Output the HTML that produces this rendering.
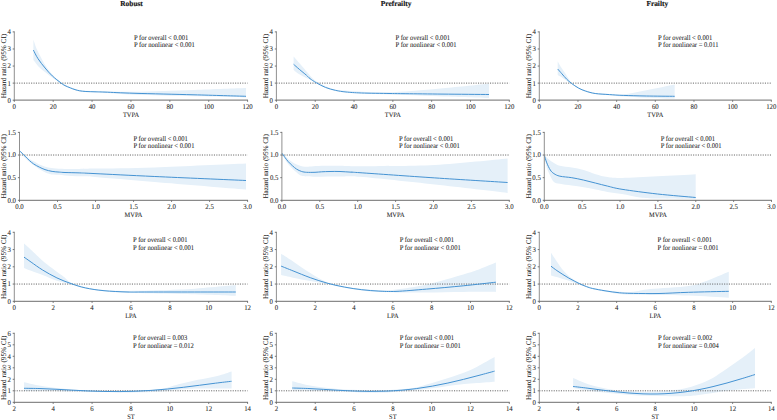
<!DOCTYPE html>
<html><head><meta charset="utf-8"><style>html,body{margin:0;padding:0;background:#fff;width:777px;height:420px;overflow:hidden}svg{display:block}</style></head>
<body><svg width="777" height="420" viewBox="0 0 777 420" font-family='"Liberation Serif", serif' text-rendering="geometricPrecision"><path d="M33.40,39.40 C33.93,40.95 35.35,45.72 36.60,48.70 C37.85,51.68 39.48,54.58 40.90,57.30 C42.32,60.02 43.20,62.12 45.10,65.00 C47.00,67.88 49.67,71.73 52.30,74.60 C54.93,77.47 57.88,80.10 60.90,82.20 C63.92,84.30 67.27,85.88 70.40,87.20 C73.53,88.52 77.00,89.50 79.70,90.10 C82.40,90.70 82.38,90.60 86.60,90.80 C90.82,91.00 96.93,91.13 105.00,91.30 C113.07,91.47 120.17,92.02 135.00,91.80 C149.83,91.58 175.50,90.62 194.00,90.00 C212.50,89.38 237.33,88.42 246.00,88.10 L246.00,97.50 C237.33,97.30 212.50,96.75 194.00,96.30 C175.50,95.85 149.83,95.38 135.00,94.80 C120.17,94.22 113.07,93.25 105.00,92.80 C96.93,92.35 90.82,92.32 86.60,92.10 C82.38,91.88 82.40,92.08 79.70,91.50 C77.00,90.92 73.53,89.90 70.40,88.60 C67.27,87.30 63.92,85.55 60.90,83.70 C57.88,81.85 55.17,79.63 52.30,77.50 C49.43,75.37 46.08,72.83 43.70,70.90 C41.32,68.97 39.72,67.70 38.00,65.90 C36.28,64.10 34.17,61.07 33.40,60.10 Z" fill="#e5f0f9" stroke="none"/><line x1="14.30" y1="83.12" x2="247.60" y2="83.12" stroke="#555" stroke-width="0.9" stroke-dasharray="1.1,1.3"/><path d="M33.40,50.10 C34.17,51.53 36.05,55.72 38.00,58.70 C39.95,61.68 42.72,65.13 45.10,68.00 C47.48,70.87 49.67,73.42 52.30,75.90 C54.93,78.38 58.78,81.28 60.90,82.90 C63.02,84.52 63.42,84.77 65.00,85.60 C66.58,86.43 68.73,87.23 70.40,87.90 C72.07,88.57 73.45,89.12 75.00,89.60 C76.55,90.08 77.88,90.48 79.70,90.80 C81.52,91.12 83.35,91.33 85.90,91.50 C88.45,91.67 91.82,91.70 95.00,91.80 C98.18,91.90 98.33,91.85 105.00,92.10 C111.67,92.35 120.17,92.85 135.00,93.30 C149.83,93.75 175.50,94.30 194.00,94.80 C212.50,95.30 237.33,96.05 246.00,96.30" fill="none" stroke="#4593d3" stroke-width="1.0"/><line x1="14.30" y1="31.40" x2="14.30" y2="100.70" stroke="#8a8a8a" stroke-width="0.95"/><line x1="13.90" y1="100.20" x2="248.00" y2="100.20" stroke="#8a8a8a" stroke-width="1.3"/><line x1="12.70" y1="100.20" x2="14.30" y2="100.20" stroke="#666" stroke-width="0.9"/><text transform="translate(10.80,102.60) scale(0.93,1)" text-anchor="end" font-size="7.3" font-weight="normal" fill="#222" stroke="#222" stroke-width="0.06">0</text><line x1="12.70" y1="83.12" x2="14.30" y2="83.12" stroke="#666" stroke-width="0.9"/><text transform="translate(10.80,85.53) scale(0.93,1)" text-anchor="end" font-size="7.3" font-weight="normal" fill="#222" stroke="#222" stroke-width="0.06">1</text><line x1="12.70" y1="66.05" x2="14.30" y2="66.05" stroke="#666" stroke-width="0.9"/><text transform="translate(10.80,68.45) scale(0.93,1)" text-anchor="end" font-size="7.3" font-weight="normal" fill="#222" stroke="#222" stroke-width="0.06">2</text><line x1="12.70" y1="48.97" x2="14.30" y2="48.97" stroke="#666" stroke-width="0.9"/><text transform="translate(10.80,51.37) scale(0.93,1)" text-anchor="end" font-size="7.3" font-weight="normal" fill="#222" stroke="#222" stroke-width="0.06">3</text><line x1="12.70" y1="31.90" x2="14.30" y2="31.90" stroke="#666" stroke-width="0.9"/><text transform="translate(10.80,34.30) scale(0.93,1)" text-anchor="end" font-size="7.3" font-weight="normal" fill="#222" stroke="#222" stroke-width="0.06">4</text><line x1="14.30" y1="100.20" x2="14.30" y2="101.80" stroke="#666" stroke-width="0.9"/><text transform="translate(14.30,109.30) scale(0.93,1)" text-anchor="middle" font-size="7.3" font-weight="normal" fill="#222" stroke="#222" stroke-width="0.06">0</text><line x1="53.18" y1="100.20" x2="53.18" y2="101.80" stroke="#666" stroke-width="0.9"/><text transform="translate(53.18,109.30) scale(0.93,1)" text-anchor="middle" font-size="7.3" font-weight="normal" fill="#222" stroke="#222" stroke-width="0.06">20</text><line x1="92.07" y1="100.20" x2="92.07" y2="101.80" stroke="#666" stroke-width="0.9"/><text transform="translate(92.07,109.30) scale(0.93,1)" text-anchor="middle" font-size="7.3" font-weight="normal" fill="#222" stroke="#222" stroke-width="0.06">40</text><line x1="130.95" y1="100.20" x2="130.95" y2="101.80" stroke="#666" stroke-width="0.9"/><text transform="translate(130.95,109.30) scale(0.93,1)" text-anchor="middle" font-size="7.3" font-weight="normal" fill="#222" stroke="#222" stroke-width="0.06">60</text><line x1="169.83" y1="100.20" x2="169.83" y2="101.80" stroke="#666" stroke-width="0.9"/><text transform="translate(169.83,109.30) scale(0.93,1)" text-anchor="middle" font-size="7.3" font-weight="normal" fill="#222" stroke="#222" stroke-width="0.06">80</text><line x1="208.72" y1="100.20" x2="208.72" y2="101.80" stroke="#666" stroke-width="0.9"/><text transform="translate(208.72,109.30) scale(0.93,1)" text-anchor="middle" font-size="7.3" font-weight="normal" fill="#222" stroke="#222" stroke-width="0.06">100</text><line x1="247.60" y1="100.20" x2="247.60" y2="101.80" stroke="#666" stroke-width="0.9"/><text transform="translate(247.60,109.30) scale(0.93,1)" text-anchor="middle" font-size="7.3" font-weight="normal" fill="#222" stroke="#222" stroke-width="0.06">120</text><text transform="translate(130.95,117.00) scale(0.94,1)" text-anchor="middle" font-size="6.8" font-weight="normal" fill="#222" stroke="#222" stroke-width="0.06">TVPA</text><text transform="translate(5.70,66.05) scale(1.0,1) rotate(-90)" text-anchor="middle" font-size="7.2" font-weight="normal" fill="#222" stroke="#222" stroke-width="0.06">Hazard ratio (95% CI)</text><text transform="translate(133.90,39.60) scale(0.9,1)" text-anchor="start" font-size="7.3" font-weight="normal" fill="#222" stroke="#222" stroke-width="0.06">P for overall &lt; 0.001</text><text transform="translate(133.90,47.40) scale(0.9,1)" text-anchor="start" font-size="7.3" font-weight="normal" fill="#222" stroke="#222" stroke-width="0.06">P for nonlinear &lt; 0.001</text><path d="M293.60,56.40 C294.32,57.23 296.23,59.48 297.90,61.40 C299.57,63.32 300.98,64.93 303.60,67.90 C306.22,70.87 310.98,76.68 313.60,79.20 C316.22,81.72 316.92,81.65 319.30,83.00 C321.68,84.35 325.28,86.23 327.90,87.30 C330.52,88.37 332.15,88.87 335.00,89.40 C337.85,89.93 338.33,90.02 345.00,90.50 C351.67,90.98 364.85,92.13 375.00,92.30 C385.15,92.47 394.57,92.17 405.90,91.50 C417.23,90.83 429.15,89.58 443.00,88.30 C456.85,87.02 481.33,84.55 489.00,83.80 L489.00,98.00 C481.33,97.75 456.85,97.00 443.00,96.50 C429.15,96.00 417.23,95.42 405.90,95.00 C394.57,94.58 385.15,94.55 375.00,94.00 C364.85,93.45 351.67,92.27 345.00,91.70 C338.33,91.13 337.85,91.13 335.00,90.60 C332.15,90.07 330.52,89.55 327.90,88.50 C325.28,87.45 321.68,85.57 319.30,84.30 C316.92,83.03 315.75,81.97 313.60,80.90 C311.45,79.83 308.78,79.00 306.40,77.90 C304.02,76.80 301.43,75.62 299.30,74.30 C297.17,72.98 294.55,70.72 293.60,70.00 Z" fill="#e5f0f9" stroke="none"/><line x1="276.40" y1="83.12" x2="509.30" y2="83.12" stroke="#555" stroke-width="0.9" stroke-dasharray="1.1,1.3"/><path d="M293.60,64.30 C294.55,65.13 297.17,67.48 299.30,69.30 C301.43,71.12 304.62,73.65 306.40,75.20 C308.18,76.75 308.37,77.35 310.00,78.60 C311.63,79.85 313.63,81.23 316.20,82.70 C318.77,84.17 322.15,86.12 325.40,87.40 C328.65,88.68 332.27,89.63 335.70,90.40 C339.13,91.17 341.70,91.57 346.00,92.00 C350.30,92.43 354.17,92.75 361.50,93.00 C368.83,93.25 382.60,93.38 390.00,93.50 C397.40,93.62 397.07,93.60 405.90,93.70 C414.73,93.80 429.15,93.97 443.00,94.10 C456.85,94.23 481.33,94.43 489.00,94.50" fill="none" stroke="#4593d3" stroke-width="1.0"/><line x1="276.40" y1="31.40" x2="276.40" y2="100.70" stroke="#8a8a8a" stroke-width="0.95"/><line x1="276.00" y1="100.20" x2="509.70" y2="100.20" stroke="#8a8a8a" stroke-width="1.3"/><line x1="274.80" y1="100.20" x2="276.40" y2="100.20" stroke="#666" stroke-width="0.9"/><text transform="translate(272.90,102.60) scale(0.93,1)" text-anchor="end" font-size="7.3" font-weight="normal" fill="#222" stroke="#222" stroke-width="0.06">0</text><line x1="274.80" y1="83.12" x2="276.40" y2="83.12" stroke="#666" stroke-width="0.9"/><text transform="translate(272.90,85.53) scale(0.93,1)" text-anchor="end" font-size="7.3" font-weight="normal" fill="#222" stroke="#222" stroke-width="0.06">1</text><line x1="274.80" y1="66.05" x2="276.40" y2="66.05" stroke="#666" stroke-width="0.9"/><text transform="translate(272.90,68.45) scale(0.93,1)" text-anchor="end" font-size="7.3" font-weight="normal" fill="#222" stroke="#222" stroke-width="0.06">2</text><line x1="274.80" y1="48.97" x2="276.40" y2="48.97" stroke="#666" stroke-width="0.9"/><text transform="translate(272.90,51.37) scale(0.93,1)" text-anchor="end" font-size="7.3" font-weight="normal" fill="#222" stroke="#222" stroke-width="0.06">3</text><line x1="274.80" y1="31.90" x2="276.40" y2="31.90" stroke="#666" stroke-width="0.9"/><text transform="translate(272.90,34.30) scale(0.93,1)" text-anchor="end" font-size="7.3" font-weight="normal" fill="#222" stroke="#222" stroke-width="0.06">4</text><line x1="276.40" y1="100.20" x2="276.40" y2="101.80" stroke="#666" stroke-width="0.9"/><text transform="translate(276.40,109.30) scale(0.93,1)" text-anchor="middle" font-size="7.3" font-weight="normal" fill="#222" stroke="#222" stroke-width="0.06">0</text><line x1="315.22" y1="100.20" x2="315.22" y2="101.80" stroke="#666" stroke-width="0.9"/><text transform="translate(315.22,109.30) scale(0.93,1)" text-anchor="middle" font-size="7.3" font-weight="normal" fill="#222" stroke="#222" stroke-width="0.06">20</text><line x1="354.03" y1="100.20" x2="354.03" y2="101.80" stroke="#666" stroke-width="0.9"/><text transform="translate(354.03,109.30) scale(0.93,1)" text-anchor="middle" font-size="7.3" font-weight="normal" fill="#222" stroke="#222" stroke-width="0.06">40</text><line x1="392.85" y1="100.20" x2="392.85" y2="101.80" stroke="#666" stroke-width="0.9"/><text transform="translate(392.85,109.30) scale(0.93,1)" text-anchor="middle" font-size="7.3" font-weight="normal" fill="#222" stroke="#222" stroke-width="0.06">60</text><line x1="431.67" y1="100.20" x2="431.67" y2="101.80" stroke="#666" stroke-width="0.9"/><text transform="translate(431.67,109.30) scale(0.93,1)" text-anchor="middle" font-size="7.3" font-weight="normal" fill="#222" stroke="#222" stroke-width="0.06">80</text><line x1="470.48" y1="100.20" x2="470.48" y2="101.80" stroke="#666" stroke-width="0.9"/><text transform="translate(470.48,109.30) scale(0.93,1)" text-anchor="middle" font-size="7.3" font-weight="normal" fill="#222" stroke="#222" stroke-width="0.06">100</text><line x1="509.30" y1="100.20" x2="509.30" y2="101.80" stroke="#666" stroke-width="0.9"/><text transform="translate(509.30,109.30) scale(0.93,1)" text-anchor="middle" font-size="7.3" font-weight="normal" fill="#222" stroke="#222" stroke-width="0.06">120</text><text transform="translate(392.85,117.00) scale(0.94,1)" text-anchor="middle" font-size="6.8" font-weight="normal" fill="#222" stroke="#222" stroke-width="0.06">TVPA</text><text transform="translate(267.80,66.05) scale(1.0,1) rotate(-90)" text-anchor="middle" font-size="7.2" font-weight="normal" fill="#222" stroke="#222" stroke-width="0.06">Hazard ratio (95% CI)</text><text transform="translate(395.60,39.60) scale(0.9,1)" text-anchor="start" font-size="7.3" font-weight="normal" fill="#222" stroke="#222" stroke-width="0.06">P for overall &lt; 0.001</text><text transform="translate(395.60,47.40) scale(0.9,1)" text-anchor="start" font-size="7.3" font-weight="normal" fill="#222" stroke="#222" stroke-width="0.06">P for nonlinear &lt; 0.001</text><path d="M557.70,61.30 C558.20,62.20 559.40,64.62 560.70,66.70 C562.00,68.78 563.72,71.18 565.50,73.80 C567.28,76.42 569.22,80.12 571.40,82.40 C573.58,84.68 576.22,86.15 578.60,87.50 C580.98,88.85 582.93,89.60 585.70,90.50 C588.47,91.40 591.23,92.33 595.20,92.90 C599.17,93.47 604.83,93.63 609.50,93.90 C614.17,94.17 617.07,95.12 623.20,94.50 C629.33,93.88 637.72,91.88 646.30,90.20 C654.88,88.52 669.97,85.37 674.70,84.40 L674.70,98.60 C669.97,98.45 654.88,98.05 646.30,97.70 C637.72,97.35 629.33,96.90 623.20,96.50 C617.07,96.10 614.17,95.70 609.50,95.30 C604.83,94.90 599.17,94.70 595.20,94.10 C591.23,93.50 588.47,92.60 585.70,91.70 C582.93,90.80 580.72,89.85 578.60,88.70 C576.48,87.55 574.78,86.00 573.00,84.80 C571.22,83.60 569.75,82.73 567.90,81.50 C566.05,80.27 563.60,78.48 561.90,77.40 C560.20,76.32 558.40,75.40 557.70,75.00 Z" fill="#e5f0f9" stroke="none"/><line x1="539.30" y1="83.12" x2="771.30" y2="83.12" stroke="#555" stroke-width="0.9" stroke-dasharray="1.1,1.3"/><path d="M557.70,69.00 C558.40,69.80 560.40,72.10 561.90,73.80 C563.40,75.50 565.12,77.62 566.70,79.20 C568.28,80.78 569.42,81.82 571.40,83.30 C573.38,84.78 576.22,86.80 578.60,88.10 C580.98,89.40 582.93,90.20 585.70,91.10 C588.47,92.00 591.23,92.92 595.20,93.50 C599.17,94.08 604.83,94.28 609.50,94.60 C614.17,94.92 617.07,95.17 623.20,95.40 C629.33,95.63 637.72,95.85 646.30,96.00 C654.88,96.15 669.97,96.25 674.70,96.30" fill="none" stroke="#4593d3" stroke-width="1.0"/><line x1="539.30" y1="31.40" x2="539.30" y2="100.70" stroke="#8a8a8a" stroke-width="0.95"/><line x1="538.90" y1="100.20" x2="771.70" y2="100.20" stroke="#8a8a8a" stroke-width="1.3"/><line x1="537.70" y1="100.20" x2="539.30" y2="100.20" stroke="#666" stroke-width="0.9"/><text transform="translate(535.80,102.60) scale(0.93,1)" text-anchor="end" font-size="7.3" font-weight="normal" fill="#222" stroke="#222" stroke-width="0.06">0</text><line x1="537.70" y1="83.12" x2="539.30" y2="83.12" stroke="#666" stroke-width="0.9"/><text transform="translate(535.80,85.53) scale(0.93,1)" text-anchor="end" font-size="7.3" font-weight="normal" fill="#222" stroke="#222" stroke-width="0.06">1</text><line x1="537.70" y1="66.05" x2="539.30" y2="66.05" stroke="#666" stroke-width="0.9"/><text transform="translate(535.80,68.45) scale(0.93,1)" text-anchor="end" font-size="7.3" font-weight="normal" fill="#222" stroke="#222" stroke-width="0.06">2</text><line x1="537.70" y1="48.97" x2="539.30" y2="48.97" stroke="#666" stroke-width="0.9"/><text transform="translate(535.80,51.37) scale(0.93,1)" text-anchor="end" font-size="7.3" font-weight="normal" fill="#222" stroke="#222" stroke-width="0.06">3</text><line x1="537.70" y1="31.90" x2="539.30" y2="31.90" stroke="#666" stroke-width="0.9"/><text transform="translate(535.80,34.30) scale(0.93,1)" text-anchor="end" font-size="7.3" font-weight="normal" fill="#222" stroke="#222" stroke-width="0.06">4</text><line x1="539.30" y1="100.20" x2="539.30" y2="101.80" stroke="#666" stroke-width="0.9"/><text transform="translate(539.30,109.30) scale(0.93,1)" text-anchor="middle" font-size="7.3" font-weight="normal" fill="#222" stroke="#222" stroke-width="0.06">0</text><line x1="577.97" y1="100.20" x2="577.97" y2="101.80" stroke="#666" stroke-width="0.9"/><text transform="translate(577.97,109.30) scale(0.93,1)" text-anchor="middle" font-size="7.3" font-weight="normal" fill="#222" stroke="#222" stroke-width="0.06">20</text><line x1="616.63" y1="100.20" x2="616.63" y2="101.80" stroke="#666" stroke-width="0.9"/><text transform="translate(616.63,109.30) scale(0.93,1)" text-anchor="middle" font-size="7.3" font-weight="normal" fill="#222" stroke="#222" stroke-width="0.06">40</text><line x1="655.30" y1="100.20" x2="655.30" y2="101.80" stroke="#666" stroke-width="0.9"/><text transform="translate(655.30,109.30) scale(0.93,1)" text-anchor="middle" font-size="7.3" font-weight="normal" fill="#222" stroke="#222" stroke-width="0.06">60</text><line x1="693.97" y1="100.20" x2="693.97" y2="101.80" stroke="#666" stroke-width="0.9"/><text transform="translate(693.97,109.30) scale(0.93,1)" text-anchor="middle" font-size="7.3" font-weight="normal" fill="#222" stroke="#222" stroke-width="0.06">80</text><line x1="732.63" y1="100.20" x2="732.63" y2="101.80" stroke="#666" stroke-width="0.9"/><text transform="translate(732.63,109.30) scale(0.93,1)" text-anchor="middle" font-size="7.3" font-weight="normal" fill="#222" stroke="#222" stroke-width="0.06">100</text><line x1="771.30" y1="100.20" x2="771.30" y2="101.80" stroke="#666" stroke-width="0.9"/><text transform="translate(771.30,109.30) scale(0.93,1)" text-anchor="middle" font-size="7.3" font-weight="normal" fill="#222" stroke="#222" stroke-width="0.06">120</text><text transform="translate(655.30,117.00) scale(0.94,1)" text-anchor="middle" font-size="6.8" font-weight="normal" fill="#222" stroke="#222" stroke-width="0.06">TVPA</text><text transform="translate(530.70,66.05) scale(1.0,1) rotate(-90)" text-anchor="middle" font-size="7.2" font-weight="normal" fill="#222" stroke="#222" stroke-width="0.06">Hazard ratio (95% CI)</text><text transform="translate(657.90,39.60) scale(0.9,1)" text-anchor="start" font-size="7.3" font-weight="normal" fill="#222" stroke="#222" stroke-width="0.06">P for overall &lt; 0.001</text><text transform="translate(657.90,47.40) scale(0.9,1)" text-anchor="start" font-size="7.3" font-weight="normal" fill="#222" stroke="#222" stroke-width="0.06">P for nonlinear = 0.011</text><path d="M19.80,150.60 C20.50,151.20 22.32,152.75 24.00,154.20 C25.68,155.65 27.92,157.90 29.90,159.30 C31.88,160.70 34.33,161.72 35.90,162.60 C37.47,163.48 37.55,163.85 39.30,164.60 C41.05,165.35 44.02,166.50 46.40,167.10 C48.78,167.70 50.50,167.90 53.60,168.20 C56.70,168.50 60.62,168.78 65.00,168.90 C69.38,169.02 74.90,168.95 79.90,168.90 C84.90,168.85 82.52,168.85 95.00,168.60 C107.48,168.35 129.63,168.23 154.80,167.40 C179.97,166.57 230.80,164.23 246.00,163.60 L246.00,189.50 C230.80,188.23 179.97,184.00 154.80,181.90 C129.63,179.80 107.48,177.83 95.00,176.90 C82.52,175.97 84.90,176.55 79.90,176.30 C74.90,176.05 69.38,175.68 65.00,175.40 C60.62,175.12 56.70,175.02 53.60,174.60 C50.50,174.18 48.78,173.78 46.40,172.90 C44.02,172.02 41.05,170.32 39.30,169.30 C37.55,168.28 37.47,167.93 35.90,166.80 C34.33,165.67 31.88,164.17 29.90,162.50 C27.92,160.83 25.68,158.65 24.00,156.80 C22.32,154.95 20.50,152.30 19.80,151.40 Z" fill="#e5f0f9" stroke="none"/><line x1="19.50" y1="155.03" x2="247.60" y2="155.03" stroke="#555" stroke-width="0.9" stroke-dasharray="1.1,1.3"/><path d="M19.80,151.00 C20.67,151.85 23.42,154.53 25.00,156.10 C26.58,157.67 27.87,159.10 29.30,160.40 C30.73,161.70 31.93,162.78 33.60,163.90 C35.27,165.02 37.40,166.15 39.30,167.10 C41.20,168.05 42.87,168.88 45.00,169.60 C47.13,170.32 49.72,170.98 52.10,171.40 C54.48,171.82 57.15,171.92 59.30,172.10 C61.45,172.28 61.57,172.37 65.00,172.50 C68.43,172.63 74.90,172.72 79.90,172.90 C84.90,173.08 82.52,173.00 95.00,173.60 C107.48,174.20 129.63,175.35 154.80,176.50 C179.97,177.65 230.80,179.83 246.00,180.50" fill="none" stroke="#4593d3" stroke-width="1.0"/><line x1="19.50" y1="131.90" x2="19.50" y2="200.80" stroke="#8a8a8a" stroke-width="0.95"/><line x1="19.10" y1="200.30" x2="248.00" y2="200.30" stroke="#8a8a8a" stroke-width="1.3"/><line x1="17.90" y1="200.30" x2="19.50" y2="200.30" stroke="#666" stroke-width="0.9"/><text transform="translate(16.00,202.70) scale(0.93,1)" text-anchor="end" font-size="7.3" font-weight="normal" fill="#222" stroke="#222" stroke-width="0.06">0.0</text><line x1="17.90" y1="177.67" x2="19.50" y2="177.67" stroke="#666" stroke-width="0.9"/><text transform="translate(16.00,180.07) scale(0.93,1)" text-anchor="end" font-size="7.3" font-weight="normal" fill="#222" stroke="#222" stroke-width="0.06">0.5</text><line x1="17.90" y1="155.03" x2="19.50" y2="155.03" stroke="#666" stroke-width="0.9"/><text transform="translate(16.00,157.43) scale(0.93,1)" text-anchor="end" font-size="7.3" font-weight="normal" fill="#222" stroke="#222" stroke-width="0.06">1.0</text><line x1="17.90" y1="132.40" x2="19.50" y2="132.40" stroke="#666" stroke-width="0.9"/><text transform="translate(16.00,134.80) scale(0.93,1)" text-anchor="end" font-size="7.3" font-weight="normal" fill="#222" stroke="#222" stroke-width="0.06">1.5</text><line x1="19.50" y1="200.30" x2="19.50" y2="201.90" stroke="#666" stroke-width="0.9"/><text transform="translate(19.50,209.40) scale(0.93,1)" text-anchor="middle" font-size="7.3" font-weight="normal" fill="#222" stroke="#222" stroke-width="0.06">0.0</text><line x1="57.52" y1="200.30" x2="57.52" y2="201.90" stroke="#666" stroke-width="0.9"/><text transform="translate(57.52,209.40) scale(0.93,1)" text-anchor="middle" font-size="7.3" font-weight="normal" fill="#222" stroke="#222" stroke-width="0.06">0.5</text><line x1="95.53" y1="200.30" x2="95.53" y2="201.90" stroke="#666" stroke-width="0.9"/><text transform="translate(95.53,209.40) scale(0.93,1)" text-anchor="middle" font-size="7.3" font-weight="normal" fill="#222" stroke="#222" stroke-width="0.06">1.0</text><line x1="133.55" y1="200.30" x2="133.55" y2="201.90" stroke="#666" stroke-width="0.9"/><text transform="translate(133.55,209.40) scale(0.93,1)" text-anchor="middle" font-size="7.3" font-weight="normal" fill="#222" stroke="#222" stroke-width="0.06">1.5</text><line x1="171.57" y1="200.30" x2="171.57" y2="201.90" stroke="#666" stroke-width="0.9"/><text transform="translate(171.57,209.40) scale(0.93,1)" text-anchor="middle" font-size="7.3" font-weight="normal" fill="#222" stroke="#222" stroke-width="0.06">2.0</text><line x1="209.58" y1="200.30" x2="209.58" y2="201.90" stroke="#666" stroke-width="0.9"/><text transform="translate(209.58,209.40) scale(0.93,1)" text-anchor="middle" font-size="7.3" font-weight="normal" fill="#222" stroke="#222" stroke-width="0.06">2.5</text><line x1="247.60" y1="200.30" x2="247.60" y2="201.90" stroke="#666" stroke-width="0.9"/><text transform="translate(247.60,209.40) scale(0.93,1)" text-anchor="middle" font-size="7.3" font-weight="normal" fill="#222" stroke="#222" stroke-width="0.06">3.0</text><text transform="translate(133.55,217.10) scale(0.94,1)" text-anchor="middle" font-size="6.8" font-weight="normal" fill="#222" stroke="#222" stroke-width="0.06">MVPA</text><text transform="translate(5.70,166.35) scale(1.0,1) rotate(-90)" text-anchor="middle" font-size="7.2" font-weight="normal" fill="#222" stroke="#222" stroke-width="0.06">Hazard ratio (95% CI)</text><text transform="translate(133.50,140.50) scale(0.9,1)" text-anchor="start" font-size="7.3" font-weight="normal" fill="#222" stroke="#222" stroke-width="0.06">P for overall &lt; 0.001</text><text transform="translate(133.50,148.30) scale(0.9,1)" text-anchor="start" font-size="7.3" font-weight="normal" fill="#222" stroke="#222" stroke-width="0.06">P for nonlinear &lt; 0.001</text><path d="M282.10,153.00 C282.58,153.42 283.97,154.47 285.00,155.50 C286.03,156.53 286.35,157.68 288.30,159.20 C290.25,160.72 293.92,163.33 296.70,164.60 C299.48,165.87 302.23,166.52 305.00,166.80 C307.77,167.08 309.97,166.47 313.30,166.30 C316.63,166.13 320.55,165.88 325.00,165.80 C329.45,165.72 334.17,165.73 340.00,165.80 C345.83,165.87 344.20,166.33 360.00,166.20 C375.80,166.07 410.20,166.27 434.80,165.00 C459.40,163.73 495.47,159.67 507.60,158.60 L507.60,192.90 C495.47,191.50 459.40,187.18 434.80,184.50 C410.20,181.82 375.80,178.13 360.00,176.80 C344.20,175.47 347.78,176.52 340.00,176.50 C332.22,176.48 319.68,176.82 313.30,176.70 C306.92,176.58 304.47,176.50 301.70,175.80 C298.93,175.10 298.23,173.67 296.70,172.50 C295.17,171.33 293.90,170.18 292.50,168.80 C291.10,167.42 289.55,165.75 288.30,164.20 C287.05,162.65 286.03,161.27 285.00,159.50 C283.97,157.73 282.58,154.58 282.10,153.60 Z" fill="#e5f0f9" stroke="none"/><line x1="281.90" y1="155.03" x2="509.30" y2="155.03" stroke="#555" stroke-width="0.9" stroke-dasharray="1.1,1.3"/><path d="M282.10,153.30 C282.58,154.00 283.97,156.10 285.00,157.50 C286.03,158.90 287.05,160.32 288.30,161.70 C289.55,163.08 291.10,164.55 292.50,165.80 C293.90,167.05 295.17,168.25 296.70,169.20 C298.23,170.15 300.03,170.98 301.70,171.50 C303.37,172.02 304.48,172.17 306.70,172.30 C308.92,172.43 312.50,172.38 315.00,172.30 C317.50,172.22 319.20,171.93 321.70,171.80 C324.20,171.67 326.95,171.55 330.00,171.50 C333.05,171.45 336.43,171.38 340.00,171.50 C343.57,171.62 348.07,172.00 351.40,172.20 C354.73,172.40 346.10,171.75 360.00,172.70 C373.90,173.65 410.20,176.27 434.80,177.90 C459.40,179.53 495.47,181.73 507.60,182.50" fill="none" stroke="#4593d3" stroke-width="1.0"/><line x1="281.90" y1="131.90" x2="281.90" y2="200.80" stroke="#8a8a8a" stroke-width="0.95"/><line x1="281.50" y1="200.30" x2="509.70" y2="200.30" stroke="#8a8a8a" stroke-width="1.3"/><line x1="280.30" y1="200.30" x2="281.90" y2="200.30" stroke="#666" stroke-width="0.9"/><text transform="translate(278.40,202.70) scale(0.93,1)" text-anchor="end" font-size="7.3" font-weight="normal" fill="#222" stroke="#222" stroke-width="0.06">0.0</text><line x1="280.30" y1="177.67" x2="281.90" y2="177.67" stroke="#666" stroke-width="0.9"/><text transform="translate(278.40,180.07) scale(0.93,1)" text-anchor="end" font-size="7.3" font-weight="normal" fill="#222" stroke="#222" stroke-width="0.06">0.5</text><line x1="280.30" y1="155.03" x2="281.90" y2="155.03" stroke="#666" stroke-width="0.9"/><text transform="translate(278.40,157.43) scale(0.93,1)" text-anchor="end" font-size="7.3" font-weight="normal" fill="#222" stroke="#222" stroke-width="0.06">1.0</text><line x1="280.30" y1="132.40" x2="281.90" y2="132.40" stroke="#666" stroke-width="0.9"/><text transform="translate(278.40,134.80) scale(0.93,1)" text-anchor="end" font-size="7.3" font-weight="normal" fill="#222" stroke="#222" stroke-width="0.06">1.5</text><line x1="281.90" y1="200.30" x2="281.90" y2="201.90" stroke="#666" stroke-width="0.9"/><text transform="translate(281.90,209.40) scale(0.93,1)" text-anchor="middle" font-size="7.3" font-weight="normal" fill="#222" stroke="#222" stroke-width="0.06">0.0</text><line x1="319.80" y1="200.30" x2="319.80" y2="201.90" stroke="#666" stroke-width="0.9"/><text transform="translate(319.80,209.40) scale(0.93,1)" text-anchor="middle" font-size="7.3" font-weight="normal" fill="#222" stroke="#222" stroke-width="0.06">0.5</text><line x1="357.70" y1="200.30" x2="357.70" y2="201.90" stroke="#666" stroke-width="0.9"/><text transform="translate(357.70,209.40) scale(0.93,1)" text-anchor="middle" font-size="7.3" font-weight="normal" fill="#222" stroke="#222" stroke-width="0.06">1.0</text><line x1="395.60" y1="200.30" x2="395.60" y2="201.90" stroke="#666" stroke-width="0.9"/><text transform="translate(395.60,209.40) scale(0.93,1)" text-anchor="middle" font-size="7.3" font-weight="normal" fill="#222" stroke="#222" stroke-width="0.06">1.5</text><line x1="433.50" y1="200.30" x2="433.50" y2="201.90" stroke="#666" stroke-width="0.9"/><text transform="translate(433.50,209.40) scale(0.93,1)" text-anchor="middle" font-size="7.3" font-weight="normal" fill="#222" stroke="#222" stroke-width="0.06">2.0</text><line x1="471.40" y1="200.30" x2="471.40" y2="201.90" stroke="#666" stroke-width="0.9"/><text transform="translate(471.40,209.40) scale(0.93,1)" text-anchor="middle" font-size="7.3" font-weight="normal" fill="#222" stroke="#222" stroke-width="0.06">2.5</text><line x1="509.30" y1="200.30" x2="509.30" y2="201.90" stroke="#666" stroke-width="0.9"/><text transform="translate(509.30,209.40) scale(0.93,1)" text-anchor="middle" font-size="7.3" font-weight="normal" fill="#222" stroke="#222" stroke-width="0.06">3.0</text><text transform="translate(395.60,217.10) scale(0.94,1)" text-anchor="middle" font-size="6.8" font-weight="normal" fill="#222" stroke="#222" stroke-width="0.06">MVPA</text><text transform="translate(268.10,166.35) scale(1.0,1) rotate(-90)" text-anchor="middle" font-size="7.2" font-weight="normal" fill="#222" stroke="#222" stroke-width="0.06">Hazard ratio (95% CI)</text><text transform="translate(398.90,140.50) scale(0.9,1)" text-anchor="start" font-size="7.3" font-weight="normal" fill="#222" stroke="#222" stroke-width="0.06">P for overall &lt; 0.001</text><text transform="translate(398.90,148.30) scale(0.9,1)" text-anchor="start" font-size="7.3" font-weight="normal" fill="#222" stroke="#222" stroke-width="0.06">P for nonlinear &lt; 0.001</text><path d="M544.40,155.30 C545.00,155.87 546.42,157.43 548.00,158.70 C549.58,159.97 551.92,161.72 553.90,162.90 C555.88,164.08 556.92,165.02 559.90,165.80 C562.88,166.58 567.83,166.90 571.80,167.60 C575.77,168.30 579.73,168.90 583.70,170.00 C587.67,171.10 591.63,173.02 595.60,174.20 C599.57,175.38 603.10,176.47 607.50,177.10 C611.90,177.73 613.67,178.13 622.00,178.00 C630.33,177.87 645.22,176.93 657.50,176.30 C669.78,175.67 689.33,174.55 695.70,174.20 L695.70,199.20 C689.33,199.10 666.78,198.88 657.50,198.60 C648.22,198.32 645.92,198.27 640.00,197.50 C634.08,196.73 627.42,194.92 622.00,194.00 C616.58,193.08 611.90,192.73 607.50,192.00 C603.10,191.27 599.57,190.38 595.60,189.60 C591.63,188.82 587.67,187.98 583.70,187.30 C579.73,186.62 575.77,186.10 571.80,185.50 C567.83,184.90 562.88,184.30 559.90,183.70 C556.92,183.10 555.50,183.18 553.90,181.90 C552.30,180.62 551.48,178.38 550.30,176.00 C549.12,173.62 547.78,170.98 546.80,167.60 C545.82,164.22 544.80,157.68 544.40,155.70 Z" fill="#e5f0f9" stroke="none"/><line x1="544.30" y1="155.03" x2="771.50" y2="155.03" stroke="#555" stroke-width="0.9" stroke-dasharray="1.1,1.3"/><path d="M544.40,155.50 C544.80,156.73 545.82,160.48 546.80,162.90 C547.78,165.32 549.12,168.22 550.30,170.00 C551.48,171.78 552.30,172.57 553.90,173.60 C555.50,174.63 556.92,175.52 559.90,176.20 C562.88,176.88 567.83,177.05 571.80,177.70 C575.77,178.35 579.73,179.20 583.70,180.10 C587.67,181.00 591.63,182.10 595.60,183.10 C599.57,184.10 603.10,185.07 607.50,186.10 C611.90,187.13 613.67,187.98 622.00,189.30 C630.33,190.62 645.22,192.63 657.50,194.00 C669.78,195.37 689.33,196.92 695.70,197.50" fill="none" stroke="#4593d3" stroke-width="1.0"/><line x1="544.30" y1="131.90" x2="544.30" y2="200.80" stroke="#8a8a8a" stroke-width="0.95"/><line x1="543.90" y1="200.30" x2="771.90" y2="200.30" stroke="#8a8a8a" stroke-width="1.3"/><line x1="542.70" y1="200.30" x2="544.30" y2="200.30" stroke="#666" stroke-width="0.9"/><text transform="translate(540.80,202.70) scale(0.93,1)" text-anchor="end" font-size="7.3" font-weight="normal" fill="#222" stroke="#222" stroke-width="0.06">0.0</text><line x1="542.70" y1="177.67" x2="544.30" y2="177.67" stroke="#666" stroke-width="0.9"/><text transform="translate(540.80,180.07) scale(0.93,1)" text-anchor="end" font-size="7.3" font-weight="normal" fill="#222" stroke="#222" stroke-width="0.06">0.5</text><line x1="542.70" y1="155.03" x2="544.30" y2="155.03" stroke="#666" stroke-width="0.9"/><text transform="translate(540.80,157.43) scale(0.93,1)" text-anchor="end" font-size="7.3" font-weight="normal" fill="#222" stroke="#222" stroke-width="0.06">1.0</text><line x1="542.70" y1="132.40" x2="544.30" y2="132.40" stroke="#666" stroke-width="0.9"/><text transform="translate(540.80,134.80) scale(0.93,1)" text-anchor="end" font-size="7.3" font-weight="normal" fill="#222" stroke="#222" stroke-width="0.06">1.5</text><line x1="544.30" y1="200.30" x2="544.30" y2="201.90" stroke="#666" stroke-width="0.9"/><text transform="translate(544.30,209.40) scale(0.93,1)" text-anchor="middle" font-size="7.3" font-weight="normal" fill="#222" stroke="#222" stroke-width="0.06">0.0</text><line x1="582.17" y1="200.30" x2="582.17" y2="201.90" stroke="#666" stroke-width="0.9"/><text transform="translate(582.17,209.40) scale(0.93,1)" text-anchor="middle" font-size="7.3" font-weight="normal" fill="#222" stroke="#222" stroke-width="0.06">0.5</text><line x1="620.03" y1="200.30" x2="620.03" y2="201.90" stroke="#666" stroke-width="0.9"/><text transform="translate(620.03,209.40) scale(0.93,1)" text-anchor="middle" font-size="7.3" font-weight="normal" fill="#222" stroke="#222" stroke-width="0.06">1.0</text><line x1="657.90" y1="200.30" x2="657.90" y2="201.90" stroke="#666" stroke-width="0.9"/><text transform="translate(657.90,209.40) scale(0.93,1)" text-anchor="middle" font-size="7.3" font-weight="normal" fill="#222" stroke="#222" stroke-width="0.06">1.5</text><line x1="695.77" y1="200.30" x2="695.77" y2="201.90" stroke="#666" stroke-width="0.9"/><text transform="translate(695.77,209.40) scale(0.93,1)" text-anchor="middle" font-size="7.3" font-weight="normal" fill="#222" stroke="#222" stroke-width="0.06">2.0</text><line x1="733.63" y1="200.30" x2="733.63" y2="201.90" stroke="#666" stroke-width="0.9"/><text transform="translate(733.63,209.40) scale(0.93,1)" text-anchor="middle" font-size="7.3" font-weight="normal" fill="#222" stroke="#222" stroke-width="0.06">2.5</text><line x1="771.50" y1="200.30" x2="771.50" y2="201.90" stroke="#666" stroke-width="0.9"/><text transform="translate(771.50,209.40) scale(0.93,1)" text-anchor="middle" font-size="7.3" font-weight="normal" fill="#222" stroke="#222" stroke-width="0.06">3.0</text><text transform="translate(657.90,217.10) scale(0.94,1)" text-anchor="middle" font-size="6.8" font-weight="normal" fill="#222" stroke="#222" stroke-width="0.06">MVPA</text><text transform="translate(530.50,166.35) scale(1.0,1) rotate(-90)" text-anchor="middle" font-size="7.2" font-weight="normal" fill="#222" stroke="#222" stroke-width="0.06">Hazard ratio (95% CI)</text><text transform="translate(660.70,140.50) scale(0.9,1)" text-anchor="start" font-size="7.3" font-weight="normal" fill="#222" stroke="#222" stroke-width="0.06">P for overall &lt; 0.001</text><text transform="translate(660.70,148.30) scale(0.9,1)" text-anchor="start" font-size="7.3" font-weight="normal" fill="#222" stroke="#222" stroke-width="0.06">P for nonlinear &lt; 0.001</text><path d="M24.00,243.60 C25.18,244.67 28.00,247.15 31.10,250.00 C34.20,252.85 39.02,257.60 42.60,260.70 C46.18,263.80 49.03,265.87 52.60,268.60 C56.17,271.33 60.92,274.73 64.00,277.10 C67.08,279.47 67.53,281.10 71.10,282.80 C74.67,284.50 79.92,286.08 85.40,287.30 C90.88,288.52 96.90,289.48 104.00,290.10 C111.10,290.72 115.33,291.08 128.00,291.00 C140.67,290.92 162.03,290.62 180.00,289.60 C197.97,288.58 226.50,285.68 235.80,284.90 L235.80,295.70 C226.50,295.40 197.97,294.35 180.00,293.90 C162.03,293.45 140.67,293.43 128.00,293.00 C115.33,292.57 111.10,292.05 104.00,291.30 C96.90,290.55 90.88,289.65 85.40,288.50 C79.92,287.35 75.85,285.70 71.10,284.40 C66.35,283.10 61.65,282.27 56.90,280.70 C52.15,279.13 46.90,276.67 42.60,275.00 C38.30,273.33 34.20,271.88 31.10,270.70 C28.00,269.52 25.18,268.37 24.00,267.90 Z" fill="#e5f0f9" stroke="none"/><line x1="14.30" y1="284.05" x2="247.60" y2="284.05" stroke="#555" stroke-width="0.9" stroke-dasharray="1.1,1.3"/><path d="M24.00,257.10 C25.18,257.93 28.00,259.95 31.10,262.10 C34.20,264.25 38.30,267.37 42.60,270.00 C46.90,272.63 52.15,275.63 56.90,277.90 C61.65,280.17 66.35,281.93 71.10,283.60 C75.85,285.27 79.92,286.72 85.40,287.90 C90.88,289.08 96.90,290.02 104.00,290.70 C111.10,291.38 120.33,291.78 128.00,292.00 C135.67,292.22 132.03,292.00 150.00,292.00 C167.97,292.00 221.50,292.00 235.80,292.00" fill="none" stroke="#4593d3" stroke-width="1.0"/><line x1="14.30" y1="231.80" x2="14.30" y2="301.80" stroke="#8a8a8a" stroke-width="0.95"/><line x1="13.90" y1="301.30" x2="248.00" y2="301.30" stroke="#8a8a8a" stroke-width="1.3"/><line x1="12.70" y1="301.30" x2="14.30" y2="301.30" stroke="#666" stroke-width="0.9"/><text transform="translate(10.80,303.70) scale(0.93,1)" text-anchor="end" font-size="7.3" font-weight="normal" fill="#222" stroke="#222" stroke-width="0.06">0</text><line x1="12.70" y1="284.05" x2="14.30" y2="284.05" stroke="#666" stroke-width="0.9"/><text transform="translate(10.80,286.45) scale(0.93,1)" text-anchor="end" font-size="7.3" font-weight="normal" fill="#222" stroke="#222" stroke-width="0.06">1</text><line x1="12.70" y1="266.80" x2="14.30" y2="266.80" stroke="#666" stroke-width="0.9"/><text transform="translate(10.80,269.20) scale(0.93,1)" text-anchor="end" font-size="7.3" font-weight="normal" fill="#222" stroke="#222" stroke-width="0.06">2</text><line x1="12.70" y1="249.55" x2="14.30" y2="249.55" stroke="#666" stroke-width="0.9"/><text transform="translate(10.80,251.95) scale(0.93,1)" text-anchor="end" font-size="7.3" font-weight="normal" fill="#222" stroke="#222" stroke-width="0.06">3</text><line x1="12.70" y1="232.30" x2="14.30" y2="232.30" stroke="#666" stroke-width="0.9"/><text transform="translate(10.80,234.70) scale(0.93,1)" text-anchor="end" font-size="7.3" font-weight="normal" fill="#222" stroke="#222" stroke-width="0.06">4</text><line x1="14.30" y1="301.30" x2="14.30" y2="302.90" stroke="#666" stroke-width="0.9"/><text transform="translate(14.30,310.40) scale(0.93,1)" text-anchor="middle" font-size="7.3" font-weight="normal" fill="#222" stroke="#222" stroke-width="0.06">0</text><line x1="53.18" y1="301.30" x2="53.18" y2="302.90" stroke="#666" stroke-width="0.9"/><text transform="translate(53.18,310.40) scale(0.93,1)" text-anchor="middle" font-size="7.3" font-weight="normal" fill="#222" stroke="#222" stroke-width="0.06">2</text><line x1="92.07" y1="301.30" x2="92.07" y2="302.90" stroke="#666" stroke-width="0.9"/><text transform="translate(92.07,310.40) scale(0.93,1)" text-anchor="middle" font-size="7.3" font-weight="normal" fill="#222" stroke="#222" stroke-width="0.06">4</text><line x1="130.95" y1="301.30" x2="130.95" y2="302.90" stroke="#666" stroke-width="0.9"/><text transform="translate(130.95,310.40) scale(0.93,1)" text-anchor="middle" font-size="7.3" font-weight="normal" fill="#222" stroke="#222" stroke-width="0.06">6</text><line x1="169.83" y1="301.30" x2="169.83" y2="302.90" stroke="#666" stroke-width="0.9"/><text transform="translate(169.83,310.40) scale(0.93,1)" text-anchor="middle" font-size="7.3" font-weight="normal" fill="#222" stroke="#222" stroke-width="0.06">8</text><line x1="208.72" y1="301.30" x2="208.72" y2="302.90" stroke="#666" stroke-width="0.9"/><text transform="translate(208.72,310.40) scale(0.93,1)" text-anchor="middle" font-size="7.3" font-weight="normal" fill="#222" stroke="#222" stroke-width="0.06">10</text><line x1="247.60" y1="301.30" x2="247.60" y2="302.90" stroke="#666" stroke-width="0.9"/><text transform="translate(247.60,310.40) scale(0.93,1)" text-anchor="middle" font-size="7.3" font-weight="normal" fill="#222" stroke="#222" stroke-width="0.06">12</text><text transform="translate(130.95,318.10) scale(0.94,1)" text-anchor="middle" font-size="6.8" font-weight="normal" fill="#222" stroke="#222" stroke-width="0.06">LPA</text><text transform="translate(5.70,266.80) scale(1.0,1) rotate(-90)" text-anchor="middle" font-size="7.2" font-weight="normal" fill="#222" stroke="#222" stroke-width="0.06">Hazard ratio (95% CI)</text><text transform="translate(133.10,242.10) scale(0.9,1)" text-anchor="start" font-size="7.3" font-weight="normal" fill="#222" stroke="#222" stroke-width="0.06">P for overall &lt; 0.001</text><text transform="translate(133.10,249.90) scale(0.9,1)" text-anchor="start" font-size="7.3" font-weight="normal" fill="#222" stroke="#222" stroke-width="0.06">P for nonlinear &lt; 0.001</text><path d="M281.10,253.70 C283.10,254.98 288.23,258.20 293.10,261.40 C297.97,264.60 304.58,269.40 310.30,272.90 C316.02,276.40 321.68,280.13 327.40,282.40 C333.12,284.67 338.88,285.40 344.60,286.50 C350.32,287.60 355.98,288.38 361.70,289.00 C367.42,289.62 373.18,290.12 378.90,290.20 C384.62,290.28 388.05,290.45 396.00,289.50 C403.95,288.55 415.38,287.00 426.60,284.50 C437.82,282.00 454.40,277.08 463.30,274.50 C472.20,271.92 474.57,270.98 480.00,269.00 C485.43,267.02 493.25,263.67 495.90,262.60 L495.90,291.90 C490.47,291.90 474.85,291.82 463.30,291.90 C451.75,291.98 437.82,292.32 426.60,292.40 C415.38,292.48 403.95,292.47 396.00,292.40 C388.05,292.33 384.62,292.32 378.90,292.00 C373.18,291.68 367.42,291.20 361.70,290.50 C355.98,289.80 350.32,288.88 344.60,287.80 C338.88,286.72 333.12,285.12 327.40,284.00 C321.68,282.88 316.02,282.15 310.30,281.10 C304.58,280.05 297.97,278.70 293.10,277.70 C288.23,276.70 283.10,275.53 281.10,275.10 Z" fill="#e5f0f9" stroke="none"/><line x1="276.40" y1="284.05" x2="509.30" y2="284.05" stroke="#555" stroke-width="0.9" stroke-dasharray="1.1,1.3"/><path d="M281.10,266.10 C283.10,266.90 288.23,268.97 293.10,270.90 C297.97,272.83 304.58,275.65 310.30,277.70 C316.02,279.75 321.68,281.63 327.40,283.20 C333.12,284.77 338.88,286.02 344.60,287.10 C350.32,288.18 355.98,289.03 361.70,289.70 C367.42,290.37 373.18,290.82 378.90,291.10 C384.62,291.38 388.05,291.73 396.00,291.40 C403.95,291.07 415.38,290.03 426.60,289.10 C437.82,288.17 451.75,286.95 463.30,285.80 C474.85,284.65 490.47,282.80 495.90,282.20" fill="none" stroke="#4593d3" stroke-width="1.0"/><line x1="276.40" y1="231.80" x2="276.40" y2="301.80" stroke="#8a8a8a" stroke-width="0.95"/><line x1="276.00" y1="301.30" x2="509.70" y2="301.30" stroke="#8a8a8a" stroke-width="1.3"/><line x1="274.80" y1="301.30" x2="276.40" y2="301.30" stroke="#666" stroke-width="0.9"/><text transform="translate(272.90,303.70) scale(0.93,1)" text-anchor="end" font-size="7.3" font-weight="normal" fill="#222" stroke="#222" stroke-width="0.06">0</text><line x1="274.80" y1="284.05" x2="276.40" y2="284.05" stroke="#666" stroke-width="0.9"/><text transform="translate(272.90,286.45) scale(0.93,1)" text-anchor="end" font-size="7.3" font-weight="normal" fill="#222" stroke="#222" stroke-width="0.06">1</text><line x1="274.80" y1="266.80" x2="276.40" y2="266.80" stroke="#666" stroke-width="0.9"/><text transform="translate(272.90,269.20) scale(0.93,1)" text-anchor="end" font-size="7.3" font-weight="normal" fill="#222" stroke="#222" stroke-width="0.06">2</text><line x1="274.80" y1="249.55" x2="276.40" y2="249.55" stroke="#666" stroke-width="0.9"/><text transform="translate(272.90,251.95) scale(0.93,1)" text-anchor="end" font-size="7.3" font-weight="normal" fill="#222" stroke="#222" stroke-width="0.06">3</text><line x1="274.80" y1="232.30" x2="276.40" y2="232.30" stroke="#666" stroke-width="0.9"/><text transform="translate(272.90,234.70) scale(0.93,1)" text-anchor="end" font-size="7.3" font-weight="normal" fill="#222" stroke="#222" stroke-width="0.06">4</text><line x1="276.40" y1="301.30" x2="276.40" y2="302.90" stroke="#666" stroke-width="0.9"/><text transform="translate(276.40,310.40) scale(0.93,1)" text-anchor="middle" font-size="7.3" font-weight="normal" fill="#222" stroke="#222" stroke-width="0.06">0</text><line x1="315.22" y1="301.30" x2="315.22" y2="302.90" stroke="#666" stroke-width="0.9"/><text transform="translate(315.22,310.40) scale(0.93,1)" text-anchor="middle" font-size="7.3" font-weight="normal" fill="#222" stroke="#222" stroke-width="0.06">2</text><line x1="354.03" y1="301.30" x2="354.03" y2="302.90" stroke="#666" stroke-width="0.9"/><text transform="translate(354.03,310.40) scale(0.93,1)" text-anchor="middle" font-size="7.3" font-weight="normal" fill="#222" stroke="#222" stroke-width="0.06">4</text><line x1="392.85" y1="301.30" x2="392.85" y2="302.90" stroke="#666" stroke-width="0.9"/><text transform="translate(392.85,310.40) scale(0.93,1)" text-anchor="middle" font-size="7.3" font-weight="normal" fill="#222" stroke="#222" stroke-width="0.06">6</text><line x1="431.67" y1="301.30" x2="431.67" y2="302.90" stroke="#666" stroke-width="0.9"/><text transform="translate(431.67,310.40) scale(0.93,1)" text-anchor="middle" font-size="7.3" font-weight="normal" fill="#222" stroke="#222" stroke-width="0.06">8</text><line x1="470.48" y1="301.30" x2="470.48" y2="302.90" stroke="#666" stroke-width="0.9"/><text transform="translate(470.48,310.40) scale(0.93,1)" text-anchor="middle" font-size="7.3" font-weight="normal" fill="#222" stroke="#222" stroke-width="0.06">10</text><line x1="509.30" y1="301.30" x2="509.30" y2="302.90" stroke="#666" stroke-width="0.9"/><text transform="translate(509.30,310.40) scale(0.93,1)" text-anchor="middle" font-size="7.3" font-weight="normal" fill="#222" stroke="#222" stroke-width="0.06">12</text><text transform="translate(392.85,318.10) scale(0.94,1)" text-anchor="middle" font-size="6.8" font-weight="normal" fill="#222" stroke="#222" stroke-width="0.06">LPA</text><text transform="translate(267.80,266.80) scale(1.0,1) rotate(-90)" text-anchor="middle" font-size="7.2" font-weight="normal" fill="#222" stroke="#222" stroke-width="0.06">Hazard ratio (95% CI)</text><text transform="translate(399.80,242.10) scale(0.9,1)" text-anchor="start" font-size="7.3" font-weight="normal" fill="#222" stroke="#222" stroke-width="0.06">P for overall &lt; 0.001</text><text transform="translate(399.80,249.90) scale(0.9,1)" text-anchor="start" font-size="7.3" font-weight="normal" fill="#222" stroke="#222" stroke-width="0.06">P for nonlinear &lt; 0.001</text><path d="M551.00,252.70 C551.58,253.60 553.12,256.02 554.50,258.10 C555.88,260.18 557.72,263.02 559.30,265.20 C560.88,267.38 562.42,269.40 564.00,271.20 C565.58,273.00 567.20,274.62 568.80,276.00 C570.40,277.38 571.62,278.25 573.60,279.50 C575.58,280.75 577.53,282.12 580.70,283.50 C583.87,284.88 588.12,286.63 592.60,287.80 C597.08,288.97 603.10,289.83 607.60,290.50 C612.10,291.17 615.32,291.58 619.60,291.80 C623.88,292.02 628.23,292.25 633.30,291.80 C638.37,291.35 640.78,290.08 650.00,289.10 C659.22,288.12 679.43,287.18 688.60,285.90 C697.77,284.62 698.30,283.77 705.00,281.40 C711.70,279.03 724.83,273.32 728.80,271.70 L728.80,297.70 C722.10,297.33 701.73,295.97 688.60,295.50 C675.47,295.03 659.22,295.05 650.00,294.90 C640.78,294.75 638.37,294.75 633.30,294.60 C628.23,294.45 623.88,294.43 619.60,294.00 C615.32,293.57 612.10,292.80 607.60,292.00 C603.10,291.20 597.08,290.35 592.60,289.20 C588.12,288.05 583.67,286.12 580.70,285.10 C577.73,284.08 576.78,283.83 574.80,283.10 C572.82,282.37 570.78,281.40 568.80,280.70 C566.82,280.00 564.88,279.50 562.90,278.90 C560.92,278.30 558.88,277.68 556.90,277.10 C554.92,276.52 551.98,275.68 551.00,275.40 Z" fill="#e5f0f9" stroke="none"/><line x1="539.30" y1="284.05" x2="771.30" y2="284.05" stroke="#555" stroke-width="0.9" stroke-dasharray="1.1,1.3"/><path d="M551.00,266.20 C551.98,266.93 554.92,269.22 556.90,270.60 C558.88,271.98 560.92,273.25 562.90,274.50 C564.88,275.75 566.82,276.97 568.80,278.10 C570.78,279.23 572.82,280.27 574.80,281.30 C576.78,282.33 578.72,283.40 580.70,284.30 C582.68,285.20 584.72,286.00 586.70,286.70 C588.68,287.40 589.55,287.82 592.60,288.50 C595.65,289.18 600.50,290.08 605.00,290.80 C609.50,291.52 614.88,292.37 619.60,292.80 C624.32,293.23 626.73,293.28 633.30,293.40 C639.87,293.52 649.78,293.68 659.00,293.50 C668.22,293.32 676.97,292.67 688.60,292.30 C700.23,291.93 722.10,291.47 728.80,291.30" fill="none" stroke="#4593d3" stroke-width="1.0"/><line x1="539.30" y1="231.80" x2="539.30" y2="301.80" stroke="#8a8a8a" stroke-width="0.95"/><line x1="538.90" y1="301.30" x2="771.70" y2="301.30" stroke="#8a8a8a" stroke-width="1.3"/><line x1="537.70" y1="301.30" x2="539.30" y2="301.30" stroke="#666" stroke-width="0.9"/><text transform="translate(535.80,303.70) scale(0.93,1)" text-anchor="end" font-size="7.3" font-weight="normal" fill="#222" stroke="#222" stroke-width="0.06">0</text><line x1="537.70" y1="284.05" x2="539.30" y2="284.05" stroke="#666" stroke-width="0.9"/><text transform="translate(535.80,286.45) scale(0.93,1)" text-anchor="end" font-size="7.3" font-weight="normal" fill="#222" stroke="#222" stroke-width="0.06">1</text><line x1="537.70" y1="266.80" x2="539.30" y2="266.80" stroke="#666" stroke-width="0.9"/><text transform="translate(535.80,269.20) scale(0.93,1)" text-anchor="end" font-size="7.3" font-weight="normal" fill="#222" stroke="#222" stroke-width="0.06">2</text><line x1="537.70" y1="249.55" x2="539.30" y2="249.55" stroke="#666" stroke-width="0.9"/><text transform="translate(535.80,251.95) scale(0.93,1)" text-anchor="end" font-size="7.3" font-weight="normal" fill="#222" stroke="#222" stroke-width="0.06">3</text><line x1="537.70" y1="232.30" x2="539.30" y2="232.30" stroke="#666" stroke-width="0.9"/><text transform="translate(535.80,234.70) scale(0.93,1)" text-anchor="end" font-size="7.3" font-weight="normal" fill="#222" stroke="#222" stroke-width="0.06">4</text><line x1="539.30" y1="301.30" x2="539.30" y2="302.90" stroke="#666" stroke-width="0.9"/><text transform="translate(539.30,310.40) scale(0.93,1)" text-anchor="middle" font-size="7.3" font-weight="normal" fill="#222" stroke="#222" stroke-width="0.06">0</text><line x1="577.97" y1="301.30" x2="577.97" y2="302.90" stroke="#666" stroke-width="0.9"/><text transform="translate(577.97,310.40) scale(0.93,1)" text-anchor="middle" font-size="7.3" font-weight="normal" fill="#222" stroke="#222" stroke-width="0.06">2</text><line x1="616.63" y1="301.30" x2="616.63" y2="302.90" stroke="#666" stroke-width="0.9"/><text transform="translate(616.63,310.40) scale(0.93,1)" text-anchor="middle" font-size="7.3" font-weight="normal" fill="#222" stroke="#222" stroke-width="0.06">4</text><line x1="655.30" y1="301.30" x2="655.30" y2="302.90" stroke="#666" stroke-width="0.9"/><text transform="translate(655.30,310.40) scale(0.93,1)" text-anchor="middle" font-size="7.3" font-weight="normal" fill="#222" stroke="#222" stroke-width="0.06">6</text><line x1="693.97" y1="301.30" x2="693.97" y2="302.90" stroke="#666" stroke-width="0.9"/><text transform="translate(693.97,310.40) scale(0.93,1)" text-anchor="middle" font-size="7.3" font-weight="normal" fill="#222" stroke="#222" stroke-width="0.06">8</text><line x1="732.63" y1="301.30" x2="732.63" y2="302.90" stroke="#666" stroke-width="0.9"/><text transform="translate(732.63,310.40) scale(0.93,1)" text-anchor="middle" font-size="7.3" font-weight="normal" fill="#222" stroke="#222" stroke-width="0.06">10</text><line x1="771.30" y1="301.30" x2="771.30" y2="302.90" stroke="#666" stroke-width="0.9"/><text transform="translate(771.30,310.40) scale(0.93,1)" text-anchor="middle" font-size="7.3" font-weight="normal" fill="#222" stroke="#222" stroke-width="0.06">12</text><text transform="translate(655.30,318.10) scale(0.94,1)" text-anchor="middle" font-size="6.8" font-weight="normal" fill="#222" stroke="#222" stroke-width="0.06">LPA</text><text transform="translate(530.70,266.80) scale(1.0,1) rotate(-90)" text-anchor="middle" font-size="7.2" font-weight="normal" fill="#222" stroke="#222" stroke-width="0.06">Hazard ratio (95% CI)</text><text transform="translate(657.60,242.10) scale(0.9,1)" text-anchor="start" font-size="7.3" font-weight="normal" fill="#222" stroke="#222" stroke-width="0.06">P for overall &lt; 0.001</text><text transform="translate(657.60,249.90) scale(0.9,1)" text-anchor="start" font-size="7.3" font-weight="normal" fill="#222" stroke="#222" stroke-width="0.06">P for nonlinear = 0.001</text><path d="M24.00,382.30 C27.48,383.02 37.57,385.45 44.90,386.60 C52.23,387.75 60.28,388.60 68.00,389.20 C75.72,389.80 80.87,389.98 91.20,390.20 C101.53,390.42 118.65,390.65 130.00,390.50 C141.35,390.35 151.20,390.33 159.30,389.30 C167.40,388.27 172.17,385.88 178.60,384.30 C185.03,382.72 191.47,381.20 197.90,379.80 C204.33,378.40 211.58,377.30 217.20,375.90 C222.82,374.50 229.20,372.15 231.60,371.40 L231.60,388.60 C225.98,388.60 206.73,388.40 197.90,388.60 C189.07,388.80 185.03,389.27 178.60,389.80 C172.17,390.33 167.40,391.37 159.30,391.80 C151.20,392.23 141.35,392.37 130.00,392.40 C118.65,392.43 105.38,392.23 91.20,392.00 C77.02,391.77 56.10,391.17 44.90,391.00 C33.70,390.83 27.48,391.00 24.00,391.00 Z" fill="#e5f0f9" stroke="none"/><line x1="14.30" y1="390.80" x2="247.60" y2="390.80" stroke="#555" stroke-width="0.9" stroke-dasharray="1.1,1.3"/><path d="M24.00,388.29 C26.66,388.33 34.65,388.38 39.97,388.54 C45.29,388.71 50.62,389.00 55.94,389.26 C61.26,389.53 66.58,389.86 71.91,390.14 C77.23,390.42 82.55,390.72 87.88,390.94 C93.20,391.16 98.52,391.36 103.85,391.47 C109.17,391.58 114.49,391.63 119.82,391.59 C125.14,391.55 130.46,391.44 135.78,391.23 C141.11,391.03 146.43,390.73 151.75,390.36 C157.08,389.99 162.40,389.52 167.72,389.01 C173.05,388.49 178.37,387.88 183.69,387.26 C189.02,386.63 194.34,385.93 199.66,385.24 C204.98,384.56 210.31,383.83 215.63,383.17 C220.95,382.50 228.94,381.58 231.60,381.27" fill="none" stroke="#4593d3" stroke-width="1.0"/><line x1="14.30" y1="332.80" x2="14.30" y2="402.80" stroke="#8a8a8a" stroke-width="0.95"/><line x1="13.90" y1="402.30" x2="248.00" y2="402.30" stroke="#8a8a8a" stroke-width="1.3"/><line x1="12.70" y1="402.30" x2="14.30" y2="402.30" stroke="#666" stroke-width="0.9"/><text transform="translate(10.80,404.70) scale(0.93,1)" text-anchor="end" font-size="7.3" font-weight="normal" fill="#222" stroke="#222" stroke-width="0.06">0</text><line x1="12.70" y1="390.80" x2="14.30" y2="390.80" stroke="#666" stroke-width="0.9"/><text transform="translate(10.80,393.20) scale(0.93,1)" text-anchor="end" font-size="7.3" font-weight="normal" fill="#222" stroke="#222" stroke-width="0.06">1</text><line x1="12.70" y1="379.30" x2="14.30" y2="379.30" stroke="#666" stroke-width="0.9"/><text transform="translate(10.80,381.70) scale(0.93,1)" text-anchor="end" font-size="7.3" font-weight="normal" fill="#222" stroke="#222" stroke-width="0.06">2</text><line x1="12.70" y1="367.80" x2="14.30" y2="367.80" stroke="#666" stroke-width="0.9"/><text transform="translate(10.80,370.20) scale(0.93,1)" text-anchor="end" font-size="7.3" font-weight="normal" fill="#222" stroke="#222" stroke-width="0.06">3</text><line x1="12.70" y1="356.30" x2="14.30" y2="356.30" stroke="#666" stroke-width="0.9"/><text transform="translate(10.80,358.70) scale(0.93,1)" text-anchor="end" font-size="7.3" font-weight="normal" fill="#222" stroke="#222" stroke-width="0.06">4</text><line x1="12.70" y1="344.80" x2="14.30" y2="344.80" stroke="#666" stroke-width="0.9"/><text transform="translate(10.80,347.20) scale(0.93,1)" text-anchor="end" font-size="7.3" font-weight="normal" fill="#222" stroke="#222" stroke-width="0.06">5</text><line x1="12.70" y1="333.30" x2="14.30" y2="333.30" stroke="#666" stroke-width="0.9"/><text transform="translate(10.80,335.70) scale(0.93,1)" text-anchor="end" font-size="7.3" font-weight="normal" fill="#222" stroke="#222" stroke-width="0.06">6</text><line x1="14.30" y1="402.30" x2="14.30" y2="403.90" stroke="#666" stroke-width="0.9"/><text transform="translate(14.30,411.40) scale(0.93,1)" text-anchor="middle" font-size="7.3" font-weight="normal" fill="#222" stroke="#222" stroke-width="0.06">2</text><line x1="53.18" y1="402.30" x2="53.18" y2="403.90" stroke="#666" stroke-width="0.9"/><text transform="translate(53.18,411.40) scale(0.93,1)" text-anchor="middle" font-size="7.3" font-weight="normal" fill="#222" stroke="#222" stroke-width="0.06">4</text><line x1="92.07" y1="402.30" x2="92.07" y2="403.90" stroke="#666" stroke-width="0.9"/><text transform="translate(92.07,411.40) scale(0.93,1)" text-anchor="middle" font-size="7.3" font-weight="normal" fill="#222" stroke="#222" stroke-width="0.06">6</text><line x1="130.95" y1="402.30" x2="130.95" y2="403.90" stroke="#666" stroke-width="0.9"/><text transform="translate(130.95,411.40) scale(0.93,1)" text-anchor="middle" font-size="7.3" font-weight="normal" fill="#222" stroke="#222" stroke-width="0.06">8</text><line x1="169.83" y1="402.30" x2="169.83" y2="403.90" stroke="#666" stroke-width="0.9"/><text transform="translate(169.83,411.40) scale(0.93,1)" text-anchor="middle" font-size="7.3" font-weight="normal" fill="#222" stroke="#222" stroke-width="0.06">10</text><line x1="208.72" y1="402.30" x2="208.72" y2="403.90" stroke="#666" stroke-width="0.9"/><text transform="translate(208.72,411.40) scale(0.93,1)" text-anchor="middle" font-size="7.3" font-weight="normal" fill="#222" stroke="#222" stroke-width="0.06">12</text><line x1="247.60" y1="402.30" x2="247.60" y2="403.90" stroke="#666" stroke-width="0.9"/><text transform="translate(247.60,411.40) scale(0.93,1)" text-anchor="middle" font-size="7.3" font-weight="normal" fill="#222" stroke="#222" stroke-width="0.06">14</text><text transform="translate(130.95,419.10) scale(0.94,1)" text-anchor="middle" font-size="6.8" font-weight="normal" fill="#222" stroke="#222" stroke-width="0.06">ST</text><text transform="translate(5.70,367.80) scale(1.0,1) rotate(-90)" text-anchor="middle" font-size="7.2" font-weight="normal" fill="#222" stroke="#222" stroke-width="0.06">Hazard ratio (95% CI)</text><text transform="translate(132.90,340.40) scale(0.9,1)" text-anchor="start" font-size="7.3" font-weight="normal" fill="#222" stroke="#222" stroke-width="0.06">P for overall = 0.003</text><text transform="translate(132.90,348.20) scale(0.9,1)" text-anchor="start" font-size="7.3" font-weight="normal" fill="#222" stroke="#222" stroke-width="0.06">P for nonlinear = 0.012</text><path d="M292.20,381.20 C295.42,381.97 303.90,384.50 311.50,385.80 C319.10,387.10 328.27,388.25 337.80,389.00 C347.33,389.75 360.00,390.15 368.70,390.30 C377.40,390.45 382.63,390.28 390.00,389.90 C397.37,389.52 406.95,388.87 412.90,388.00 C418.85,387.13 421.42,385.88 425.70,384.70 C429.98,383.52 434.30,382.18 438.60,380.90 C442.90,379.62 447.20,378.40 451.50,377.00 C455.80,375.60 460.12,374.22 464.40,372.50 C468.68,370.78 472.17,369.27 477.20,366.70 C482.23,364.13 491.70,358.70 494.60,357.10 L494.60,381.70 C491.70,381.92 482.23,382.63 477.20,383.00 C472.17,383.37 468.68,383.47 464.40,383.90 C460.12,384.33 455.80,385.00 451.50,385.60 C447.20,386.20 442.90,386.95 438.60,387.50 C434.30,388.05 429.98,388.38 425.70,388.90 C421.42,389.42 418.85,390.03 412.90,390.60 C406.95,391.17 397.37,391.97 390.00,392.30 C382.63,392.63 377.40,392.73 368.70,392.60 C360.00,392.47 347.33,391.77 337.80,391.50 C328.27,391.23 319.10,391.17 311.50,391.00 C303.90,390.83 295.42,390.58 292.20,390.50 Z" fill="#e5f0f9" stroke="none"/><line x1="276.40" y1="390.80" x2="509.30" y2="390.80" stroke="#555" stroke-width="0.9" stroke-dasharray="1.1,1.3"/><path d="M292.20,388.01 C294.79,388.09 302.58,388.25 307.77,388.48 C312.96,388.70 318.15,389.05 323.34,389.35 C328.53,389.66 333.72,390.02 338.91,390.30 C344.10,390.59 349.29,390.88 354.48,391.06 C359.67,391.24 364.86,391.38 370.05,391.40 C375.24,391.41 380.43,391.35 385.62,391.15 C390.81,390.96 395.99,390.66 401.18,390.22 C406.37,389.79 411.56,389.23 416.75,388.55 C421.94,387.86 427.13,387.05 432.32,386.13 C437.51,385.22 442.70,384.17 447.89,383.04 C453.08,381.92 458.27,380.67 463.46,379.39 C468.65,378.11 473.84,376.72 479.03,375.35 C484.22,373.97 492.01,371.84 494.60,371.14" fill="none" stroke="#4593d3" stroke-width="1.0"/><line x1="276.40" y1="332.80" x2="276.40" y2="402.80" stroke="#8a8a8a" stroke-width="0.95"/><line x1="276.00" y1="402.30" x2="509.70" y2="402.30" stroke="#8a8a8a" stroke-width="1.3"/><line x1="274.80" y1="402.30" x2="276.40" y2="402.30" stroke="#666" stroke-width="0.9"/><text transform="translate(272.90,404.70) scale(0.93,1)" text-anchor="end" font-size="7.3" font-weight="normal" fill="#222" stroke="#222" stroke-width="0.06">0</text><line x1="274.80" y1="390.80" x2="276.40" y2="390.80" stroke="#666" stroke-width="0.9"/><text transform="translate(272.90,393.20) scale(0.93,1)" text-anchor="end" font-size="7.3" font-weight="normal" fill="#222" stroke="#222" stroke-width="0.06">1</text><line x1="274.80" y1="379.30" x2="276.40" y2="379.30" stroke="#666" stroke-width="0.9"/><text transform="translate(272.90,381.70) scale(0.93,1)" text-anchor="end" font-size="7.3" font-weight="normal" fill="#222" stroke="#222" stroke-width="0.06">2</text><line x1="274.80" y1="367.80" x2="276.40" y2="367.80" stroke="#666" stroke-width="0.9"/><text transform="translate(272.90,370.20) scale(0.93,1)" text-anchor="end" font-size="7.3" font-weight="normal" fill="#222" stroke="#222" stroke-width="0.06">3</text><line x1="274.80" y1="356.30" x2="276.40" y2="356.30" stroke="#666" stroke-width="0.9"/><text transform="translate(272.90,358.70) scale(0.93,1)" text-anchor="end" font-size="7.3" font-weight="normal" fill="#222" stroke="#222" stroke-width="0.06">4</text><line x1="274.80" y1="344.80" x2="276.40" y2="344.80" stroke="#666" stroke-width="0.9"/><text transform="translate(272.90,347.20) scale(0.93,1)" text-anchor="end" font-size="7.3" font-weight="normal" fill="#222" stroke="#222" stroke-width="0.06">5</text><line x1="274.80" y1="333.30" x2="276.40" y2="333.30" stroke="#666" stroke-width="0.9"/><text transform="translate(272.90,335.70) scale(0.93,1)" text-anchor="end" font-size="7.3" font-weight="normal" fill="#222" stroke="#222" stroke-width="0.06">6</text><line x1="276.40" y1="402.30" x2="276.40" y2="403.90" stroke="#666" stroke-width="0.9"/><text transform="translate(276.40,411.40) scale(0.93,1)" text-anchor="middle" font-size="7.3" font-weight="normal" fill="#222" stroke="#222" stroke-width="0.06">2</text><line x1="315.22" y1="402.30" x2="315.22" y2="403.90" stroke="#666" stroke-width="0.9"/><text transform="translate(315.22,411.40) scale(0.93,1)" text-anchor="middle" font-size="7.3" font-weight="normal" fill="#222" stroke="#222" stroke-width="0.06">4</text><line x1="354.03" y1="402.30" x2="354.03" y2="403.90" stroke="#666" stroke-width="0.9"/><text transform="translate(354.03,411.40) scale(0.93,1)" text-anchor="middle" font-size="7.3" font-weight="normal" fill="#222" stroke="#222" stroke-width="0.06">6</text><line x1="392.85" y1="402.30" x2="392.85" y2="403.90" stroke="#666" stroke-width="0.9"/><text transform="translate(392.85,411.40) scale(0.93,1)" text-anchor="middle" font-size="7.3" font-weight="normal" fill="#222" stroke="#222" stroke-width="0.06">8</text><line x1="431.67" y1="402.30" x2="431.67" y2="403.90" stroke="#666" stroke-width="0.9"/><text transform="translate(431.67,411.40) scale(0.93,1)" text-anchor="middle" font-size="7.3" font-weight="normal" fill="#222" stroke="#222" stroke-width="0.06">10</text><line x1="470.48" y1="402.30" x2="470.48" y2="403.90" stroke="#666" stroke-width="0.9"/><text transform="translate(470.48,411.40) scale(0.93,1)" text-anchor="middle" font-size="7.3" font-weight="normal" fill="#222" stroke="#222" stroke-width="0.06">12</text><line x1="509.30" y1="402.30" x2="509.30" y2="403.90" stroke="#666" stroke-width="0.9"/><text transform="translate(509.30,411.40) scale(0.93,1)" text-anchor="middle" font-size="7.3" font-weight="normal" fill="#222" stroke="#222" stroke-width="0.06">14</text><text transform="translate(392.85,419.10) scale(0.94,1)" text-anchor="middle" font-size="6.8" font-weight="normal" fill="#222" stroke="#222" stroke-width="0.06">ST</text><text transform="translate(267.80,367.80) scale(1.0,1) rotate(-90)" text-anchor="middle" font-size="7.2" font-weight="normal" fill="#222" stroke="#222" stroke-width="0.06">Hazard ratio (95% CI)</text><text transform="translate(399.80,340.40) scale(0.9,1)" text-anchor="start" font-size="7.3" font-weight="normal" fill="#222" stroke="#222" stroke-width="0.06">P for overall &lt; 0.001</text><text transform="translate(399.80,348.20) scale(0.9,1)" text-anchor="start" font-size="7.3" font-weight="normal" fill="#222" stroke="#222" stroke-width="0.06">P for nonlinear = 0.001</text><path d="M573.10,378.10 C576.07,379.27 584.08,383.12 590.90,385.10 C597.72,387.08 606.28,388.93 614.00,390.00 C621.72,391.07 630.37,391.23 637.20,391.50 C644.03,391.77 649.53,391.75 655.00,391.60 C660.47,391.45 665.12,391.10 670.00,390.60 C674.88,390.10 679.53,389.65 684.30,388.60 C689.07,387.55 693.83,386.08 698.60,384.30 C703.37,382.52 708.15,380.52 712.90,377.90 C717.65,375.28 722.35,371.82 727.10,368.60 C731.85,365.38 736.75,362.05 741.40,358.60 C746.05,355.15 752.73,349.68 755.00,347.90 L755.00,388.30 C752.73,388.47 746.05,388.90 741.40,389.30 C736.75,389.70 731.85,390.10 727.10,390.70 C722.35,391.30 717.65,392.18 712.90,392.90 C708.15,393.62 703.37,394.45 698.60,395.00 C693.83,395.55 690.67,396.03 684.30,396.20 C677.93,396.37 668.25,396.12 660.40,396.00 C652.55,395.88 644.93,395.92 637.20,395.50 C629.47,395.08 621.72,394.25 614.00,393.50 C606.28,392.75 597.72,391.93 590.90,391.00 C584.08,390.07 576.07,388.42 573.10,387.90 Z" fill="#e5f0f9" stroke="none"/><line x1="539.30" y1="390.80" x2="771.30" y2="390.80" stroke="#555" stroke-width="0.9" stroke-dasharray="1.1,1.3"/><path d="M573.10,386.45 C575.43,386.73 582.43,387.53 587.09,388.12 C591.76,388.70 596.42,389.37 601.08,389.96 C605.75,390.55 610.41,391.17 615.08,391.68 C619.74,392.20 624.41,392.68 629.07,393.04 C633.73,393.41 638.40,393.70 643.06,393.86 C647.73,394.01 652.39,394.07 657.05,393.98 C661.72,393.90 666.38,393.69 671.05,393.33 C675.71,392.98 680.37,392.49 685.04,391.87 C689.70,391.25 694.37,390.48 699.03,389.60 C703.69,388.73 708.36,387.71 713.02,386.60 C717.69,385.50 722.35,384.26 727.02,382.97 C731.68,381.69 736.34,380.29 741.01,378.89 C745.67,377.49 752.67,375.28 755.00,374.56" fill="none" stroke="#4593d3" stroke-width="1.0"/><line x1="539.30" y1="332.80" x2="539.30" y2="402.80" stroke="#8a8a8a" stroke-width="0.95"/><line x1="538.90" y1="402.30" x2="771.70" y2="402.30" stroke="#8a8a8a" stroke-width="1.3"/><line x1="537.70" y1="402.30" x2="539.30" y2="402.30" stroke="#666" stroke-width="0.9"/><text transform="translate(535.80,404.70) scale(0.93,1)" text-anchor="end" font-size="7.3" font-weight="normal" fill="#222" stroke="#222" stroke-width="0.06">0</text><line x1="537.70" y1="390.80" x2="539.30" y2="390.80" stroke="#666" stroke-width="0.9"/><text transform="translate(535.80,393.20) scale(0.93,1)" text-anchor="end" font-size="7.3" font-weight="normal" fill="#222" stroke="#222" stroke-width="0.06">1</text><line x1="537.70" y1="379.30" x2="539.30" y2="379.30" stroke="#666" stroke-width="0.9"/><text transform="translate(535.80,381.70) scale(0.93,1)" text-anchor="end" font-size="7.3" font-weight="normal" fill="#222" stroke="#222" stroke-width="0.06">2</text><line x1="537.70" y1="367.80" x2="539.30" y2="367.80" stroke="#666" stroke-width="0.9"/><text transform="translate(535.80,370.20) scale(0.93,1)" text-anchor="end" font-size="7.3" font-weight="normal" fill="#222" stroke="#222" stroke-width="0.06">3</text><line x1="537.70" y1="356.30" x2="539.30" y2="356.30" stroke="#666" stroke-width="0.9"/><text transform="translate(535.80,358.70) scale(0.93,1)" text-anchor="end" font-size="7.3" font-weight="normal" fill="#222" stroke="#222" stroke-width="0.06">4</text><line x1="537.70" y1="344.80" x2="539.30" y2="344.80" stroke="#666" stroke-width="0.9"/><text transform="translate(535.80,347.20) scale(0.93,1)" text-anchor="end" font-size="7.3" font-weight="normal" fill="#222" stroke="#222" stroke-width="0.06">5</text><line x1="537.70" y1="333.30" x2="539.30" y2="333.30" stroke="#666" stroke-width="0.9"/><text transform="translate(535.80,335.70) scale(0.93,1)" text-anchor="end" font-size="7.3" font-weight="normal" fill="#222" stroke="#222" stroke-width="0.06">6</text><line x1="539.30" y1="402.30" x2="539.30" y2="403.90" stroke="#666" stroke-width="0.9"/><text transform="translate(539.30,411.40) scale(0.93,1)" text-anchor="middle" font-size="7.3" font-weight="normal" fill="#222" stroke="#222" stroke-width="0.06">2</text><line x1="577.97" y1="402.30" x2="577.97" y2="403.90" stroke="#666" stroke-width="0.9"/><text transform="translate(577.97,411.40) scale(0.93,1)" text-anchor="middle" font-size="7.3" font-weight="normal" fill="#222" stroke="#222" stroke-width="0.06">4</text><line x1="616.63" y1="402.30" x2="616.63" y2="403.90" stroke="#666" stroke-width="0.9"/><text transform="translate(616.63,411.40) scale(0.93,1)" text-anchor="middle" font-size="7.3" font-weight="normal" fill="#222" stroke="#222" stroke-width="0.06">6</text><line x1="655.30" y1="402.30" x2="655.30" y2="403.90" stroke="#666" stroke-width="0.9"/><text transform="translate(655.30,411.40) scale(0.93,1)" text-anchor="middle" font-size="7.3" font-weight="normal" fill="#222" stroke="#222" stroke-width="0.06">8</text><line x1="693.97" y1="402.30" x2="693.97" y2="403.90" stroke="#666" stroke-width="0.9"/><text transform="translate(693.97,411.40) scale(0.93,1)" text-anchor="middle" font-size="7.3" font-weight="normal" fill="#222" stroke="#222" stroke-width="0.06">10</text><line x1="732.63" y1="402.30" x2="732.63" y2="403.90" stroke="#666" stroke-width="0.9"/><text transform="translate(732.63,411.40) scale(0.93,1)" text-anchor="middle" font-size="7.3" font-weight="normal" fill="#222" stroke="#222" stroke-width="0.06">12</text><line x1="771.30" y1="402.30" x2="771.30" y2="403.90" stroke="#666" stroke-width="0.9"/><text transform="translate(771.30,411.40) scale(0.93,1)" text-anchor="middle" font-size="7.3" font-weight="normal" fill="#222" stroke="#222" stroke-width="0.06">14</text><text transform="translate(655.30,419.10) scale(0.94,1)" text-anchor="middle" font-size="6.8" font-weight="normal" fill="#222" stroke="#222" stroke-width="0.06">ST</text><text transform="translate(530.70,367.80) scale(1.0,1) rotate(-90)" text-anchor="middle" font-size="7.2" font-weight="normal" fill="#222" stroke="#222" stroke-width="0.06">Hazard ratio (95% CI)</text><text transform="translate(657.90,340.40) scale(0.9,1)" text-anchor="start" font-size="7.3" font-weight="normal" fill="#222" stroke="#222" stroke-width="0.06">P for overall = 0.002</text><text transform="translate(657.90,348.20) scale(0.9,1)" text-anchor="start" font-size="7.3" font-weight="normal" fill="#222" stroke="#222" stroke-width="0.06">P for nonlinear = 0.004</text><text transform="translate(120.30,5.60) scale(0.97,1)" text-anchor="start" font-size="7.6" font-weight="bold" fill="#111" stroke="#111" stroke-width="0.15">Robust</text><text transform="translate(380.80,5.60) scale(0.97,1)" text-anchor="start" font-size="7.6" font-weight="bold" fill="#111" stroke="#111" stroke-width="0.15">Prefrailty</text><text transform="translate(646.40,5.60) scale(0.97,1)" text-anchor="start" font-size="7.6" font-weight="bold" fill="#111" stroke="#111" stroke-width="0.15">Frailty</text></svg></body></html>
